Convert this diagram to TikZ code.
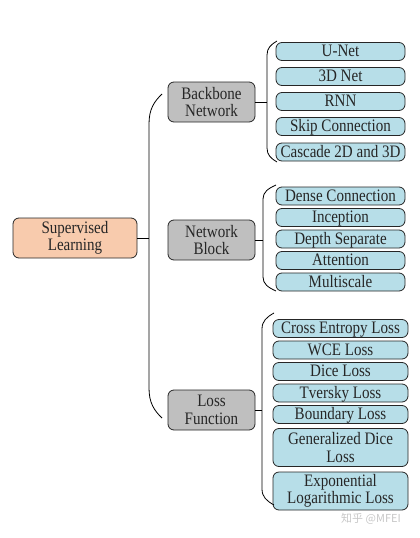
\documentclass[tikz,border=0pt]{standalone}
\usepackage{fontspec}
\setmainfont{Liberation Serif}[FakeStretch=0.86]
\newfontfamily\cjk{Noto Sans CJK SC}
\usepackage{tikz}
\usetikzlibrary{calc}
\definecolor{rootc}{RGB}{248,203,173}
\definecolor{midc}{RGB}{191,191,191}
\definecolor{leafc}{RGB}{183,222,232}
\tikzset{bx/.style={draw=black!85, line width=0.8pt, rounded corners=6pt, align=center,
  inner sep=1pt, text=black!85, font=\fontsize{17.5}{17.5}\selectfont}}
\tikzset{rt/.style={bx, fill=rootc, minimum width=124pt, minimum height=40pt}}
\tikzset{gp/.style={bx, fill=midc, minimum width=87pt, minimum height=40pt}}
\tikzset{lv/.style={bx, fill=leafc, minimum width=129pt, minimum height=18pt,
  text height=13pt, text depth=3pt, inner ysep=0.5pt}}
\tikzset{lw/.style={lv, minimum width=135pt}}
\tikzset{lt/.style={bx, fill=leafc, minimum width=135pt, minimum height=38pt}}
\newcommand{\tbrack}[5]{% bar x, top y, bottom y, end dx, bend dy
  \draw[line width=0.8pt] (#1+#4,#2)
    .. controls +(-#4*0.6,#5*0.25) and +(0,-#5*0.5) .. (#1,#2+#5)
    -- (#1,#3-#5)
    .. controls +(0,#5*0.5) and +(-#4*0.6,-#5*0.25) .. (#1+#4,#3);
}

\begin{document}
\begin{tikzpicture}[x=1pt, y=-1pt]
  \useasboundingbox (0,0) rectangle (420,538);
  % root and groups
  \node[rt] (sl) at (75,238) {Supervised\\Learning};
  \node[gp] (bb) at (211.5,102) {Backbone\\Network};
  \node[gp] (nb) at (211.5,240) {Network\\Block};
  \node[gp] (lf) at (211.5,410) {Loss\\Function};
  % backbone network
  \node[lv] (unet) at (340.5,51.5) {U-Net};
  \node[lv] (tdnet) at (340.5,76.5) {3D Net};
  \node[lv] (rnn) at (340.5,101.5) {RNN};
  \node[lv] (skip) at (340.5,126.5) {Skip Connection};
  \node[lv] (casc) at (340.5,152) {Cascade 2D and 3D};
  % network block
  \node[lv] (dense) at (340.5,196) {Dense Connection};
  \node[lv] (incep) at (340.5,217.5) {Inception};
  \node[lv] (depth) at (340.5,239) {Depth Separate};
  \node[lv] (attn) at (340.5,260.5) {Attention};
  \node[lv] (multi) at (340.5,282) {Multiscale};
  % loss function
  \node[lw] (ce) at (340.5,328.5) {Cross Entropy Loss};
  \node[lw] (wce) at (340.5,350) {WCE Loss};
  \node[lw] (dice) at (340.5,371.5) {Dice Loss};
  \node[lw] (tvl) at (340.5,393) {Tversky Loss};
  \node[lw] (bdl) at (340.5,414.5) {Boundary Loss};
  \node[lt] (gdl) at (340.5,447.5) {Generalized Dice\\Loss};
  \node[lt] (exl) at (340.5,491) {Exponential\\Logarithmic Loss};
  % brackets
  \coordinate (slj) at (149,238);
  \coordinate (bbj) at (267,102);
  \coordinate (nbj) at (263,240);
  \coordinate (lfj) at (262,410);
  \draw[line width=0.8pt] (sl.east) -- (slj);
  \draw[line width=0.8pt] (bb.east) -- (bbj);
  \draw[line width=0.8pt] (nb.east) -- (nbj);
  \draw[line width=0.8pt] (lf.east) -- (lfj);
  \tbrack{149}{94}{418}{13}{30}
  \tbrack{267}{41}{162}{10}{14}
  \tbrack{263}{185}{291}{13}{14}
  \tbrack{262}{313}{505}{12}{16}
  \node[text=black!22, font=\cjk\fontsize{11}{11}\selectfont] (wm) at (371,519) {知乎 @MFEI};
\end{tikzpicture}
\end{document}
